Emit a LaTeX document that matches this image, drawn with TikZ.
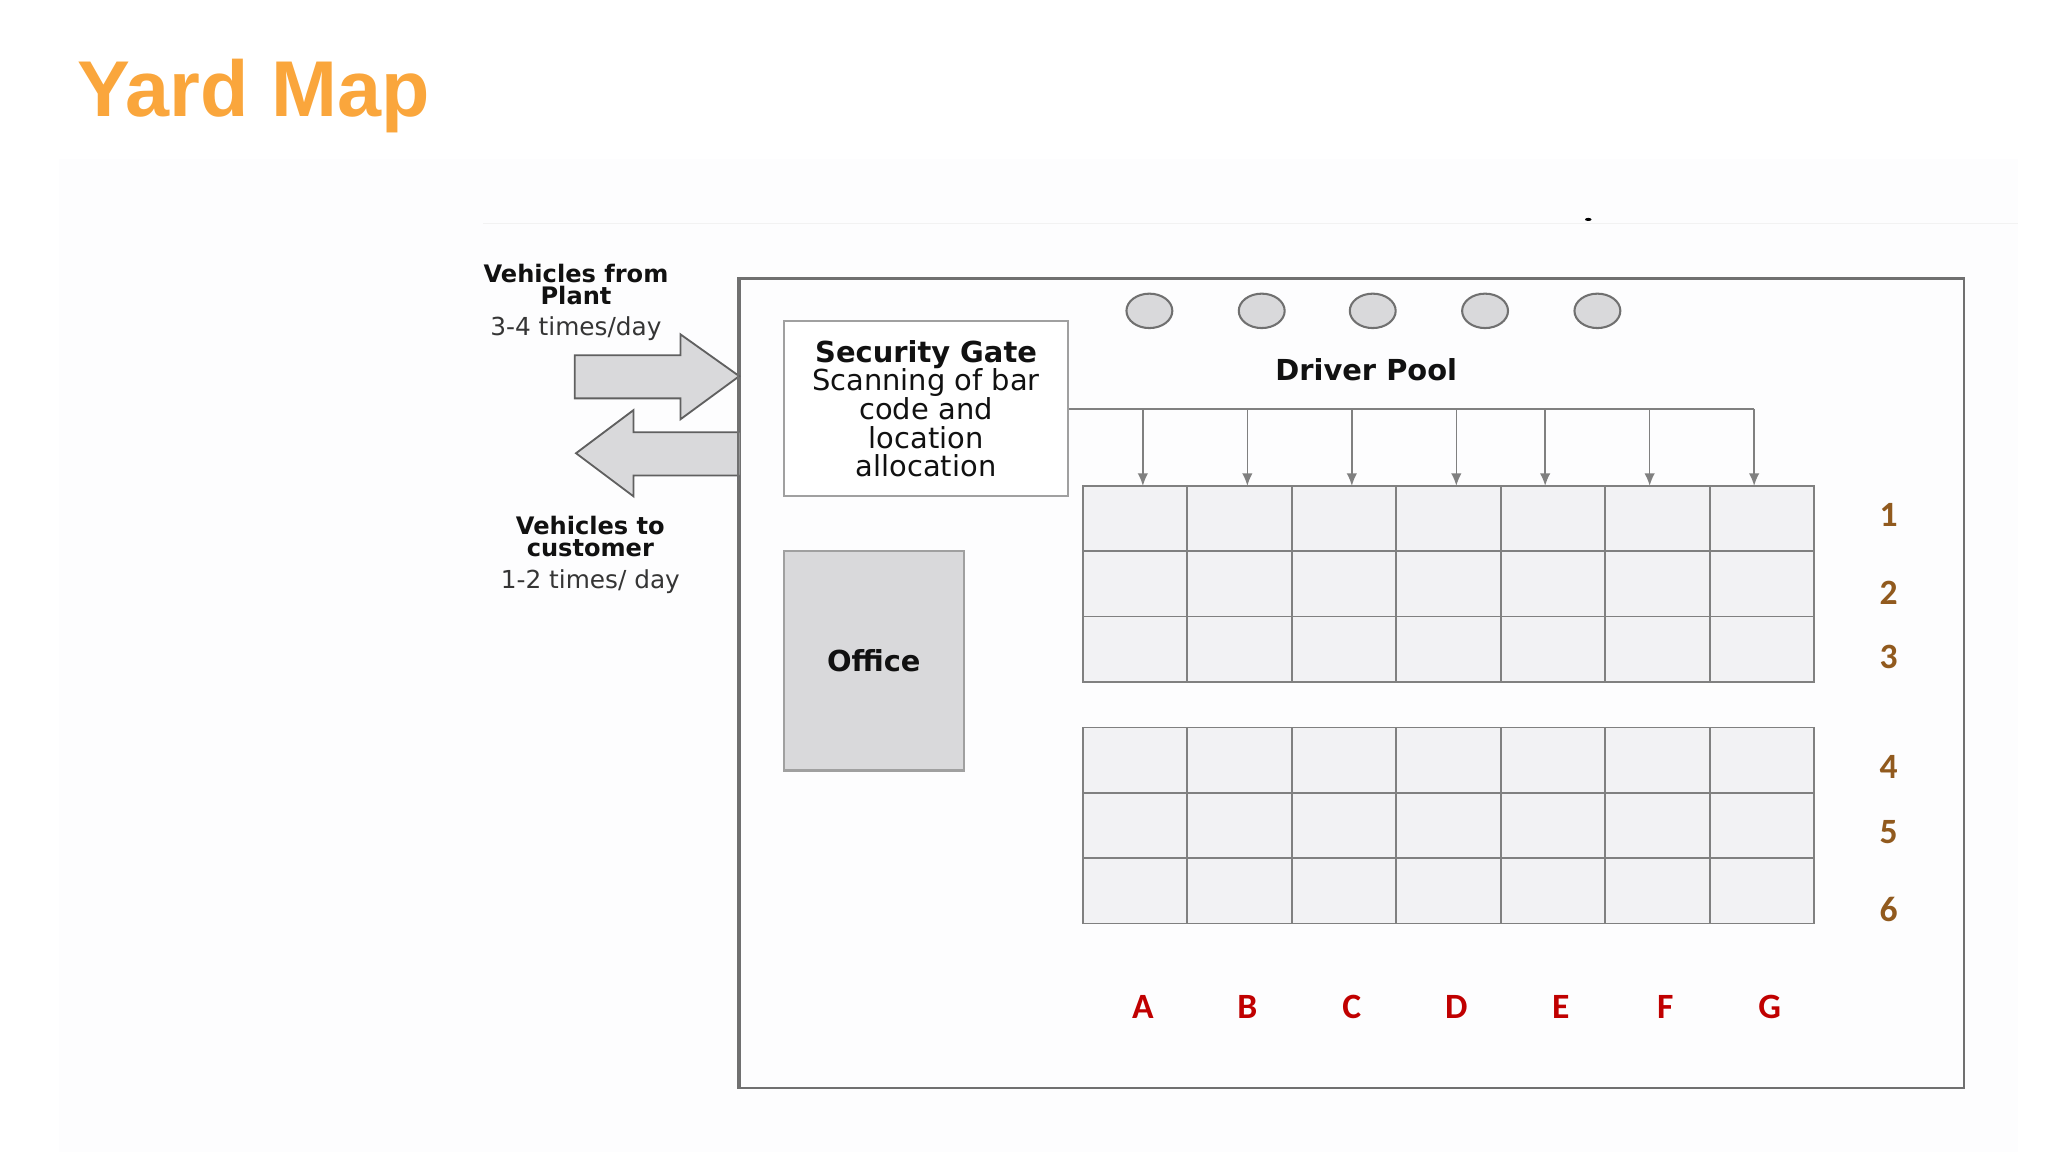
\documentclass[tikz,border=0pt]{standalone}
\usepackage{fontspec}
\setmainfont{DejaVu Sans}
\newfontfamily\titlefont{Liberation Sans}
\newfontfamily\califont{Carlito}
\usetikzlibrary{arrows.meta,shapes.geometric}
\definecolor{titleorange}{RGB}{250,166,60}
\definecolor{frame}{RGB}{112,112,112}
\definecolor{boxline}{RGB}{160,160,160}
\definecolor{gridline}{RGB}{128,128,128}
\definecolor{cellfill}{RGB}{242,242,244}
\definecolor{greyfill}{RGB}{217,217,219}
\definecolor{arrowline}{RGB}{96,96,96}
\definecolor{rowbrown}{RGB}{145,90,30}
\definecolor{colred}{RGB}{192,0,0}
\definecolor{bgfaint}{RGB}{253,253,254}
\definecolor{txt}{RGB}{17,17,17}
\tikzset{
  yardbox/.style={draw=frame, line width=1.1pt, minimum width=533.7pt, minimum height=352.8pt, inner sep=0pt},
  gatebox/.style={draw=boxline, line width=0.9pt, fill=white, minimum width=124pt, minimum height=76.2pt, inner sep=0pt, align=center, text=txt, font=\fontsize{12.6}{12.5}\selectfont},
  officebox/.style={draw=boxline, line width=1pt, fill=greyfill, minimum width=78.5pt, minimum height=95.6pt, inner sep=0pt, text=txt, font=\bfseries\fontsize{12.6}{14}\selectfont},
  cell/.style={draw=gridline, line width=0.8pt, fill=cellfill, minimum width=45.52pt, minimum height=28.45pt, inner sep=0pt},
  driver/.style={ellipse, draw=frame, line width=0.9pt, fill=greyfill, minimum width=20pt, minimum height=15pt, inner sep=0pt},
  conn/.style={draw=gridline, line width=0.7pt},
  bigarrow/.style={draw=arrowline, line width=0.8pt, fill=greyfill, line join=miter},
  sidebold/.style={align=center, text=txt, font=\bfseries\fontsize{10.5}{9.7}\selectfont, inner sep=0pt},
  sidereg/.style={align=center, text=txt!85, font=\fontsize{10.8}{12}\selectfont, inner sep=0pt},
  rowlab/.style={text=rowbrown, font=\califont\bfseries\fontsize{15.5}{18}\selectfont, inner sep=0pt},
  collab/.style={text=colred, font=\califont\bfseries\fontsize{15.5}{18}\selectfont, inner sep=0pt},
}
\begin{document}
\begin{tikzpicture}[x=0.02cm,y=-0.02cm]
\useasboundingbox (0,0) rectangle (1568,882);
\fill[white] (0,0) rectangle (1568,882);
\fill[bgfaint] (45,122) rectangle (1545,882);
\draw[draw=black!5, line width=0.5pt] (370,171) -- (1545,171);
\fill[black] (1216,168) ellipse (2.5 and 1.2);

% title
\node[anchor=base west, inner sep=0pt, text=titleorange, font=\titlefont\bfseries\fontsize{34.5}{40}\selectfont] (title) at (59,89) {Yard Map};

% yard frame
\node[yardbox] (yard) at (1035,523) {};

% side arrows
\draw[bigarrow] (440,272) -- (521,272) -- (521,256) -- (566,288) -- (521,321) -- (521,305) -- (440,305) -- cycle;
\fill[greyfill] (566,331) -- (485,331) -- (485,314) -- (441,347) -- (485,380) -- (485,364) -- (566,364) -- cycle;
\draw[bigarrow, fill=none] (566,331) -- (485,331) -- (485,314) -- (441,347) -- (485,380) -- (485,364) -- (566,364);
\draw[draw=frame, line width=1.1pt] (yard.north west) -- (yard.south west);

\node[sidebold] (fromplant) at (441,218) {Vehicles from\\Plant};
\node[sidereg] (fromfreq) at (441,252) {3-4 times/day};
\node[sidebold] (tocust) at (452,411) {Vehicles to\\customer};
\node[sidereg] (tofreq) at (452,445) {1-2 times/ day};

% security gate and office
\node[gatebox] (gate) at (709,313) {\textbf{Security Gate}\\Scanning of bar\\code and\\location\\allocation};
\node[officebox] (office) at (669,506) {Office};

% driver pool
\foreach \x [count=\i] in {880,966,1051,1137,1223}
  \node[driver] (d\i) at (\x,238) {};
\node[text=txt, font=\bfseries\fontsize{12.6}{14}\selectfont, inner sep=0pt] (pool) at (1046,283) {Driver Pool};

% parking grid
\foreach \r [count=\k] in {397,447,497,582,632,682}
  \foreach \c [count=\j] in {869,949,1029,1109,1189,1269,1349}
    \node[cell] (c\k-\j) at (\c,\r) {};

% connectors
\coordinate (busend) at (1343,313);
\draw[conn] (gate.east) -- (busend);
\foreach \x [count=\i] in {875,955,1035,1115,1183,1263,1343} {
  \coordinate (b\i) at (\x,313);
  \coordinate (t\i) at (\x,372);
  \draw[conn, -{Latex[length=5.5pt,width=4.6pt]}] (b\i) -- (t\i);
}

% labels
\foreach \n/\y in {1/394,2/454,3/503,4/587,5/637,6/696}
  \node[rowlab] (row\n) at (1446,\y) {\n};
\foreach \l/\x in {A/875,B/955,C/1035,D/1115,E/1195,F/1275,G/1355}
  \node[collab] (col\l) at (\x,771) {\l};
\end{tikzpicture}
\end{document}
